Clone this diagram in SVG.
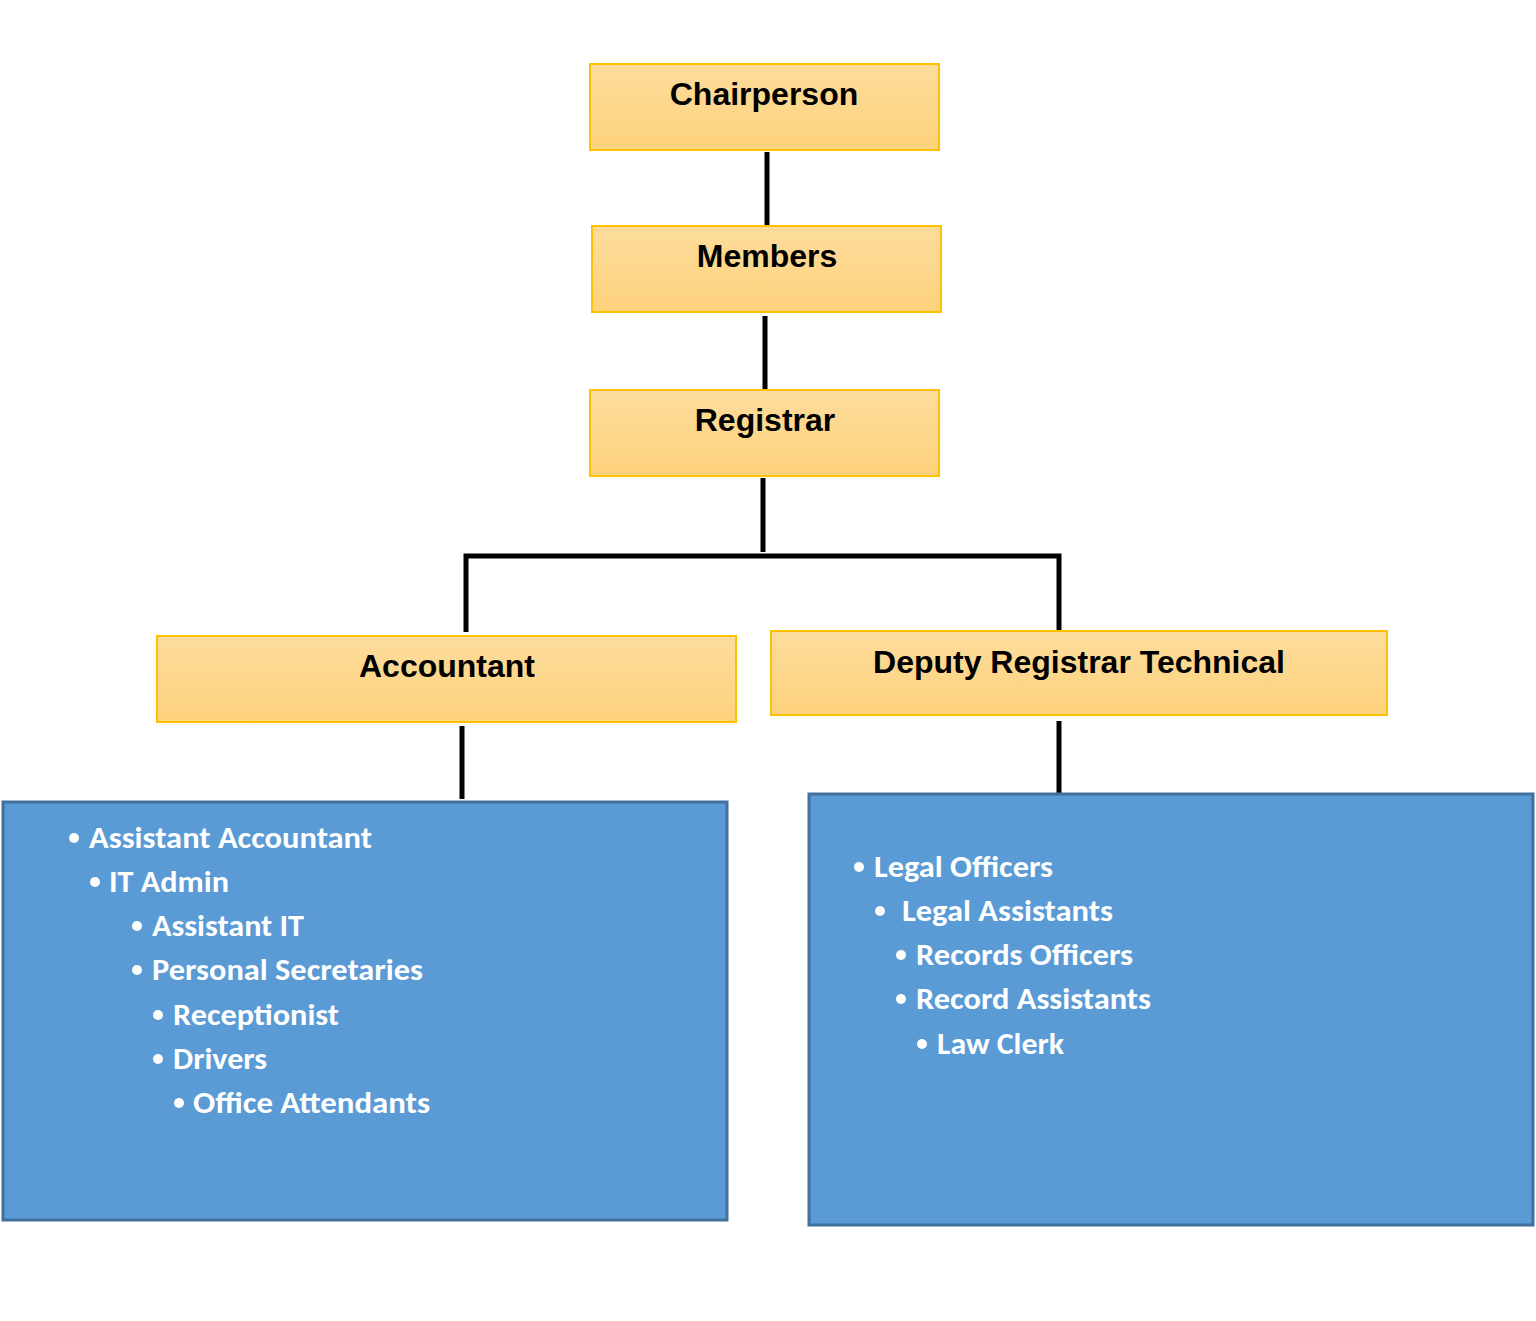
<svg xmlns="http://www.w3.org/2000/svg" width="1536" height="1321" viewBox="0 0 1536 1321">
<defs>
<linearGradient id="gold" x1="0" y1="0" x2="0" y2="1">
<stop offset="0" stop-color="#FDDC9C"/>
<stop offset="1" stop-color="#FDD27C"/>
</linearGradient>
<style>
.box{fill:url(#gold);stroke:#FFC000;stroke-width:2}
.blue{fill:#5B9BD5;stroke:#41719C;stroke-width:3}
.t{font-family:"Liberation Sans",Arial,sans-serif;font-weight:bold;font-size:32px;fill:#000;text-anchor:middle}
.b{font-family:Carlito,Lato,"Open Sans",sans-serif;font-weight:bold;font-size:30px;fill:#fff}
.dot{fill:#fff}
.c{stroke:#000;stroke-width:5;fill:none}
</style>
</defs>
<rect width="1536" height="1321" fill="#fff"/>
<g id="connectors">
<line class="c" x1="767" y1="152" x2="767" y2="225"/>
<line class="c" x1="765" y1="316" x2="765" y2="389"/>
<line class="c" x1="763" y1="478" x2="763" y2="552"/>
<polyline class="c" points="466,632 466,556 1059,556 1059,631"/>
<line class="c" x1="462" y1="726" x2="462" y2="799"/>
<line class="c" x1="1059" y1="721" x2="1059" y2="794"/>
</g>
<g id="chairperson"><rect class="box" x="590" y="64" width="349" height="86"/><text class="t" x="764" y="105">Chairperson</text></g>
<g id="members"><rect class="box" x="592" y="226" width="349" height="86"/><text class="t" x="767" y="267">Members</text></g>
<g id="registrar"><rect class="box" x="590" y="390" width="349" height="86"/><text class="t" x="765" y="431">Registrar</text></g>
<g id="accountant"><rect class="box" x="157" y="636" width="579" height="86"/><text class="t" x="447" y="677">Accountant</text></g>
<g id="deputy"><rect class="box" x="771" y="631" width="616" height="84"/><text class="t" x="1079" y="673">Deputy Registrar Technical</text></g>
<g id="accountant-staff">
<rect class="blue" x="3" y="802" width="724" height="418"/>
<circle class="dot" cx="74" cy="838" r="5"/><text class="b" x="89" y="848" textLength="283" lengthAdjust="spacingAndGlyphs">Assistant Accountant</text>
<circle class="dot" cx="95" cy="882" r="5"/><text class="b" x="109" y="892" textLength="120" lengthAdjust="spacingAndGlyphs">IT Admin</text>
<circle class="dot" cx="137" cy="926" r="5"/><text class="b" x="152" y="936" textLength="152" lengthAdjust="spacingAndGlyphs">Assistant IT</text>
<circle class="dot" cx="137" cy="970" r="5"/><text class="b" x="152" y="980" textLength="271" lengthAdjust="spacingAndGlyphs">Personal Secretaries</text>
<circle class="dot" cx="158" cy="1015" r="5"/><text class="b" x="173" y="1025" textLength="166" lengthAdjust="spacingAndGlyphs">Receptionist</text>
<circle class="dot" cx="158" cy="1059" r="5"/><text class="b" x="173" y="1069" textLength="94" lengthAdjust="spacingAndGlyphs">Drivers</text>
<circle class="dot" cx="179" cy="1103" r="5"/><text class="b" x="193" y="1113" textLength="237" lengthAdjust="spacingAndGlyphs">Office Attendants</text>
</g>
<g id="deputy-staff">
<rect class="blue" x="809" y="794" width="724" height="431"/>
<circle class="dot" cx="859" cy="867" r="5"/><text class="b" x="874" y="877" textLength="179" lengthAdjust="spacingAndGlyphs">Legal Officers</text>
<circle class="dot" cx="880" cy="911" r="5"/><text class="b" x="902" y="921" textLength="211" lengthAdjust="spacingAndGlyphs">Legal Assistants</text>
<circle class="dot" cx="901" cy="955" r="5"/><text class="b" x="916" y="965" textLength="217" lengthAdjust="spacingAndGlyphs">Records Officers</text>
<circle class="dot" cx="901" cy="999" r="5"/><text class="b" x="916" y="1009" textLength="235" lengthAdjust="spacingAndGlyphs">Record Assistants</text>
<circle class="dot" cx="922" cy="1044" r="5"/><text class="b" x="937" y="1054" textLength="127" lengthAdjust="spacingAndGlyphs">Law Clerk</text>
</g>
</svg>
